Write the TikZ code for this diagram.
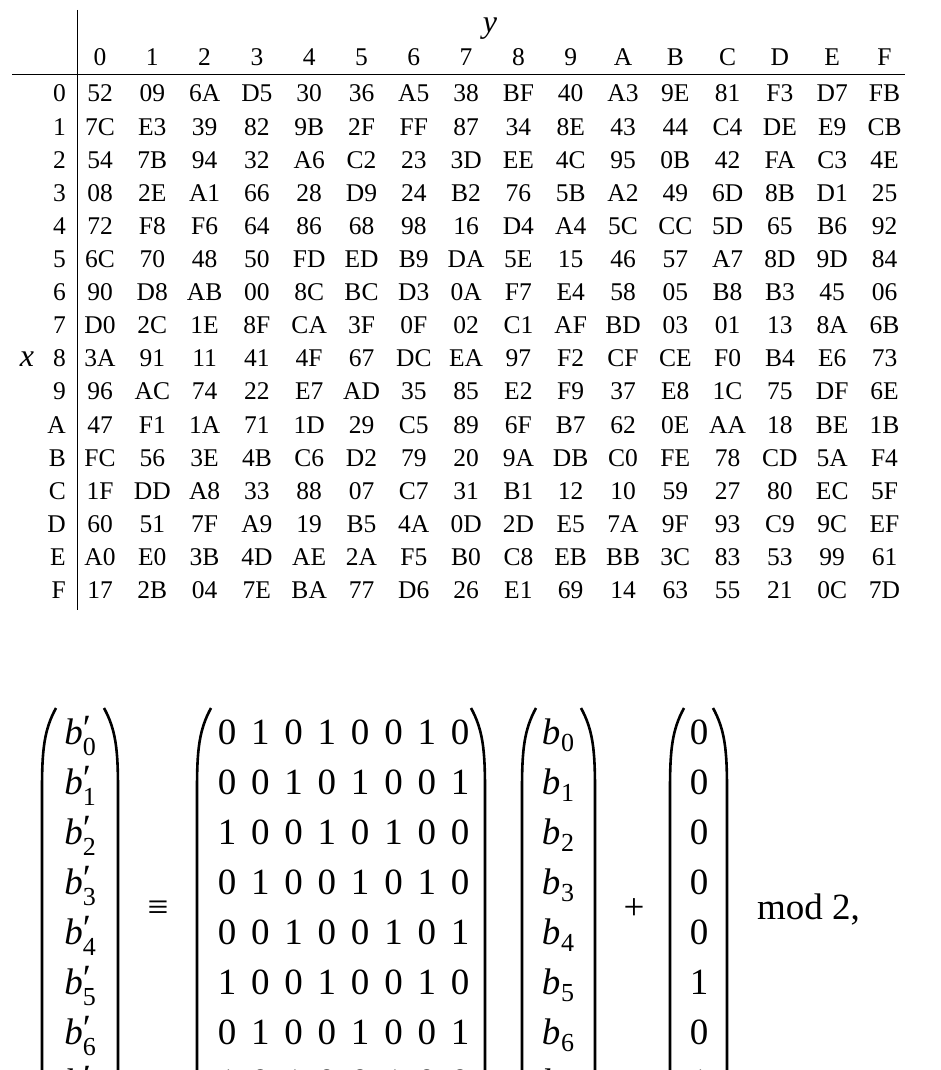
\documentclass[tikz,border=0pt]{standalone}
\usepackage{fontspec}
\setmainfont{Liberation Serif}
\begin{document}
\begin{tikzpicture}[x=1pt,y=-1pt,
  cell/.style={inner sep=0pt,anchor=base,font=\fontsize{25.5}{28}\selectfont},
  big/.style={inner sep=0pt,anchor=base,font=\fontsize{37}{40}\selectfont},
  paren/.style={line width=2.6pt}]
\useasboundingbox (0,0) rectangle (941,1070);
\clip (0,0) rectangle (941,1070);
% axes
\node[cell,font=\fontsize{32}{34}\selectfont\itshape] (ylab) at (490,33) {y};
\node[cell,font=\fontsize{32}{34}\selectfont\itshape] (xlab) at (27,366) {x};
\draw[line width=1pt] (77,10) -- (77,610);
\draw[line width=1pt] (12,75) -- (905,75);
\foreach \h [count=\i from 0] in {0,1,2,3,4,5,6,7,8,9,A,B,C,D,E,F}{
  \node[cell] (col\i) at (100+52.3*\i,66) {\h};
  \node[cell,anchor=base east] (row\i) at (66,102+33.1*\i) {\h};
}
\foreach \r/\vals in {
0/{52,09,6A,D5,30,36,A5,38,BF,40,A3,9E,81,F3,D7,FB},
1/{7C,E3,39,82,9B,2F,FF,87,34,8E,43,44,C4,DE,E9,CB},
2/{54,7B,94,32,A6,C2,23,3D,EE,4C,95,0B,42,FA,C3,4E},
3/{08,2E,A1,66,28,D9,24,B2,76,5B,A2,49,6D,8B,D1,25},
4/{72,F8,F6,64,86,68,98,16,D4,A4,5C,CC,5D,65,B6,92},
5/{6C,70,48,50,FD,ED,B9,DA,5E,15,46,57,A7,8D,9D,84},
6/{90,D8,AB,00,8C,BC,D3,0A,F7,E4,58,05,B8,B3,45,06},
7/{D0,2C,1E,8F,CA,3F,0F,02,C1,AF,BD,03,01,13,8A,6B},
8/{3A,91,11,41,4F,67,DC,EA,97,F2,CF,CE,F0,B4,E6,73},
9/{96,AC,74,22,E7,AD,35,85,E2,F9,37,E8,1C,75,DF,6E},
10/{47,F1,1A,71,1D,29,C5,89,6F,B7,62,0E,AA,18,BE,1B},
11/{FC,56,3E,4B,C6,D2,79,20,9A,DB,C0,FE,78,CD,5A,F4},
12/{1F,DD,A8,33,88,07,C7,31,B1,12,10,59,27,80,EC,5F},
13/{60,51,7F,A9,19,B5,4A,0D,2D,E5,7A,9F,93,C9,9C,EF},
14/{A0,E0,3B,4D,AE,2A,F5,B0,C8,EB,BB,3C,83,53,99,61},
15/{17,2B,04,7E,BA,77,D6,26,E1,69,14,63,55,21,0C,7D}}{
  \foreach \v [count=\c from 0] in \vals {
    \node[cell] (t\r-\c) at (100+52.3*\c,102+33.1*\r) {\v};
  }
}
% equation
\foreach \i in {0,...,7}{
  \node[big] (bp\i) at (80,744+50*\i) {\itshape b\/\makebox[0pt][l]{\raisebox{0.1em}{\upshape ′}}\raisebox{-0.32em}{\upshape\fontsize{26}{28}\selectfont\i}};
  \node[big] (b\i) at (558,744+50*\i) {\itshape b\kern0.02em\raisebox{-0.2em}{\upshape\fontsize{26}{28}\selectfont\i}};
}
\foreach \r/\vals in {0/{0,1,0,1,0,0,1,0},1/{0,0,1,0,1,0,0,1},2/{1,0,0,1,0,1,0,0},3/{0,1,0,0,1,0,1,0},
  4/{0,0,1,0,0,1,0,1},5/{1,0,0,1,0,0,1,0},6/{0,1,0,0,1,0,0,1},7/{1,0,1,0,0,1,0,0}}{
  \foreach \v [count=\c from 0] in \vals {
    \node[big] (m\r-\c) at (227+33.3*\c,744+50*\r) {\v};
  }
}
\foreach \v [count=\i from 0] in {0,0,0,0,0,1,0,1}{
  \node[big] (k\i) at (699,744+50*\i) {\v};
}
\node[big] (eq) at (158,919) {≡};
\node[big] (plus) at (634,919) {+};
\node[big,anchor=base west] (mod) at (757,919) {mod 2,};
% parentheses
\foreach \xl/\xr in {42/118,197/485,522/595,670/727}{
  \draw[paren] (\xl+14,708) .. controls (\xl+2,730) and (\xl,750) .. (\xl,790) -- (\xl,1090);
  \draw[paren] (\xr-14,708) .. controls (\xr-2,730) and (\xr,750) .. (\xr,790) -- (\xr,1090);
}
\end{tikzpicture}
\end{document}
